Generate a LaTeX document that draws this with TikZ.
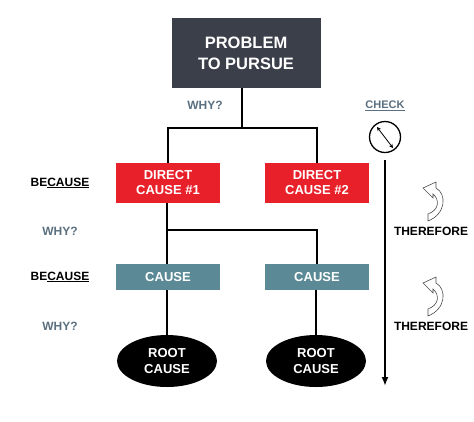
\documentclass[tikz,border=0pt]{standalone}
\usepackage{fontspec}
\setmainfont{Liberation Sans}
\usetikzlibrary{shapes.geometric,arrows.meta}
\definecolor{darkbox}{HTML}{3A3F4A}
\definecolor{redbox}{HTML}{E8202A}
\definecolor{tealbox}{HTML}{5B8A96}
\definecolor{why}{HTML}{5A7080}
\begin{document}
\begin{tikzpicture}[x=1pt,y=-1pt,
  box/.style={draw=none,minimum width=104pt,text=white,font=\bfseries\fontsize{13}{15}\selectfont,align=center,inner sep=0},
  lbl/.style={font=\bfseries\fontsize{12}{14}\selectfont},
  whyl/.style={lbl,text=why},
  conn/.style={line width=1.6pt},
  curv/.style={draw=black!70,fill=white,line width=0.6pt}]
\useasboundingbox (0,0) rectangle (474,421);
\node[box,fill=darkbox,minimum width=149pt,minimum height=70pt,font=\bfseries\fontsize{16.5}{21}\selectfont] (p) at (246,53) {PROBLEM\\TO PURSUE};
\node[whyl] (w0) at (205,105) {WHY?};
\node[box,fill=redbox,minimum height=40pt] (d1) at (168,183) {DIRECT\\CAUSE \#1};
\node[box,fill=redbox,minimum height=40pt] (d2) at (317,183) {DIRECT\\CAUSE \#2};
\node[box,fill=tealbox,minimum height=26pt] (c1) at (168,277) {CAUSE};
\node[box,fill=tealbox,minimum height=26pt] (c2) at (317,277) {CAUSE};
\node[ellipse,fill=black,minimum width=100pt,minimum height=52pt,inner sep=0,text=white,font=\bfseries\fontsize{13}{16}\selectfont,align=center] (r1) at (167,361) {ROOT\\CAUSE};
\node[ellipse,fill=black,minimum width=100pt,minimum height=52pt,inner sep=0,text=white,font=\bfseries\fontsize{13}{16}\selectfont,align=center] (r2) at (316,361) {ROOT\\CAUSE};
\coordinate (j1) at (242,128);
\coordinate (j2) at (167,230);
\draw[conn] (p.south -| j1) -- (j1);
\draw[conn] (d1.north) |- (j1) -| (d2.north);
\draw[conn] (d1.south -| j2) -- (j2) -| (c2.north);
\draw[conn] (j2) -- (c1.north -| j2);
\draw[conn] (c1.south -| r1) -- (r1.north);
\draw[conn] (c2.south -| r2) -- (r2.north);
\node[lbl] (b1) at (60,183) {BE\underline{CAUSE}};
\node[whyl] (w1) at (60,231) {WHY?};
\node[lbl] (b2) at (60,277) {BE\underline{CAUSE}};
\node[whyl] (w2) at (60,326) {WHY?};
\node[whyl,font=\bfseries\fontsize{11}{13}\selectfont] (ck) at (385,106) {\underline{CHECK}};
\node[circle,draw,line width=1.3pt,minimum size=31pt,inner sep=0] (clk) at (385,137) {};
\draw[{Stealth[length=4pt,width=4pt]}-{Stealth[length=4pt,width=4pt]},line width=0.8pt] (377,127) -- (393,148);
\coordinate (ae) at (385,386);
\draw[line width=2.2pt,-{Latex[length=9pt,width=7pt]}] (385,160) -- (ae);
\foreach \yy in {200,295}{
  \draw[curv] (428,\yy+21) .. controls (446,\yy+14) and (447,\yy-6) .. (436,\yy-12)
    -- (436,\yy-18) -- (423,\yy-12) -- (433,\yy-2) -- (433,\yy-6)
    .. controls (440,\yy) and (439,\yy+10) .. (428,\yy+14) -- cycle;
}
\node[lbl] (t1) at (431,231) {THEREFORE};
\node[lbl] (t2) at (431,326) {THEREFORE};
\end{tikzpicture}
\end{document}
